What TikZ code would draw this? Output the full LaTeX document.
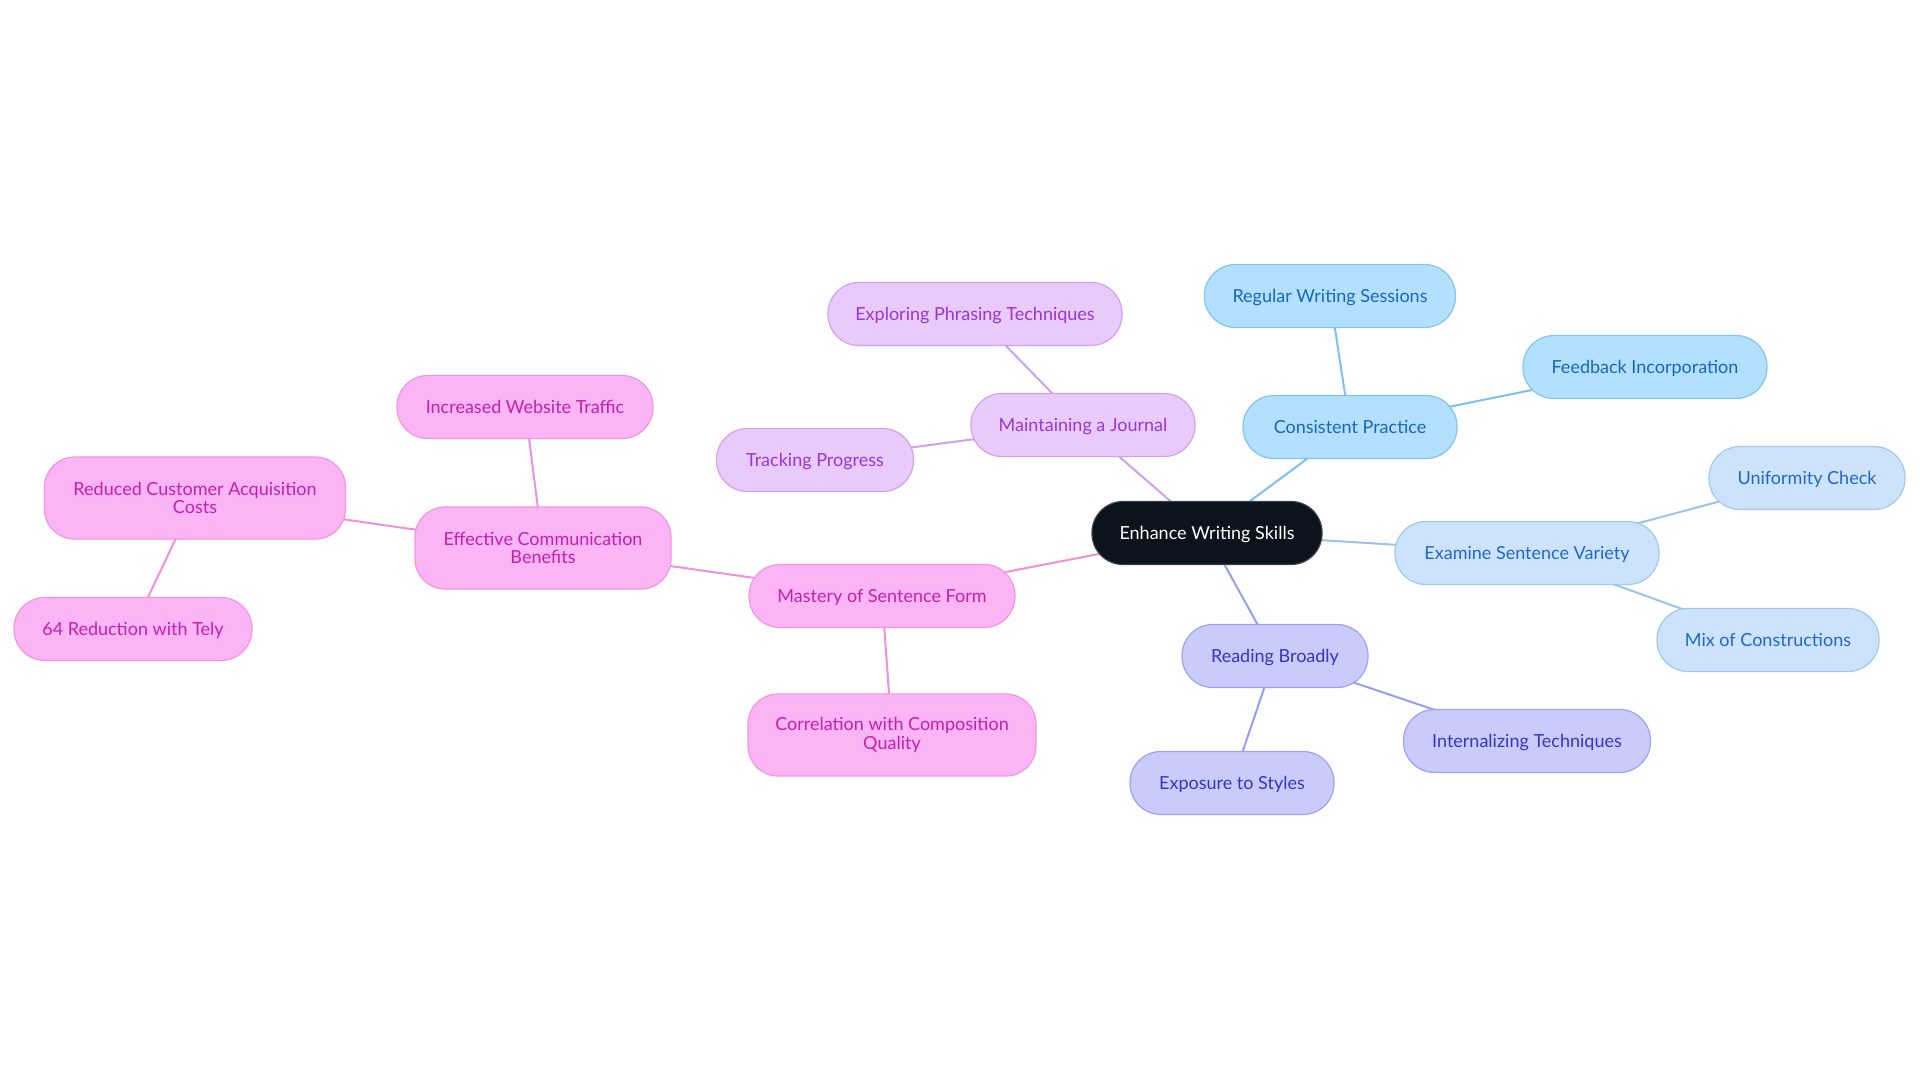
\documentclass[tikz,border=0pt]{standalone}
\usepackage{fontspec}
\setmainfont{Lato}
\usetikzlibrary{backgrounds}
\definecolor{rootfill}{HTML}{0D131C}
\definecolor{rootdraw}{HTML}{3A4049}
\definecolor{bAfill}{HTML}{B3E0FF}
\definecolor{bAdraw}{HTML}{80C4F0}
\definecolor{bAtext}{HTML}{1567C2}
\definecolor{bAedge}{HTML}{7DC0F0}
\definecolor{bBfill}{HTML}{CCE3FB}
\definecolor{bBdraw}{HTML}{A0C8F0}
\definecolor{bBtext}{HTML}{2068D0}
\definecolor{bBedge}{HTML}{9CC3EE}
\definecolor{vfill}{HTML}{C9CBFB}
\definecolor{vdraw}{HTML}{9EA2F2}
\definecolor{vtext}{HTML}{3535C8}
\definecolor{vedge}{HTML}{9A9CF0}
\definecolor{pfill}{HTML}{E8CAFB}
\definecolor{pdraw}{HTML}{D2A0F2}
\definecolor{ptext}{HTML}{9A35D6}
\definecolor{pedge}{HTML}{CFA0EE}
\definecolor{kfill}{HTML}{FCB5F4}
\definecolor{kdraw}{HTML}{F095E4}
\definecolor{ktext}{HTML}{C41FB0}
\definecolor{kedge}{HTML}{F08FE0}
\tikzset{
  box/.style={rectangle, rounded corners=31pt, minimum height=63pt, inner xsep=10pt,
    text height=14pt, text depth=1.4pt,
    line width=1.2pt, align=center, font=\fontsize{18}{18.5}\selectfont},
  tall/.style={rounded corners=30pt, minimum height=82pt, text height=, text depth=},
  rootbox/.style={box, fill=rootfill, draw=rootdraw, text=white},
  bA/.style={box, fill=bAfill, draw=bAdraw, text=bAtext},
  bB/.style={box, fill=bBfill, draw=bBdraw, text=bBtext},
  vi/.style={box, fill=vfill, draw=vdraw, text=vtext},
  pu/.style={box, fill=pfill, draw=pdraw, text=ptext},
  pk/.style={box, fill=kfill, draw=kdraw, text=ktext},
  link/.style={line width=2pt}
}
\begin{document}
\begin{tikzpicture}[x=1pt,y=-1pt]
\useasboundingbox (0,0) rectangle (1920,1083);
\node[rootbox, minimum width=230pt] (root) at (1207,533) {Enhance Writing Skills};
\node[bA, minimum width=214pt] (cp) at (1350,427) {Consistent Practice};
\node[bA, minimum width=251pt] (rws) at (1330,296) {Regular Writing Sessions};
\node[bA, minimum width=244pt] (fi) at (1645,367) {Feedback Incorporation};
\node[bB, minimum width=264pt] (esv) at (1527,553) {Examine Sentence Variety};
\node[bB, minimum width=196pt] (uc) at (1807,478) {Uniformity Check};
\node[bB, minimum width=222pt] (mc) at (1768,640) {Mix of Constructions};
\node[vi, minimum width=186pt] (rb) at (1275,656) {Reading Broadly};
\node[vi, minimum width=247pt] (it) at (1527,741) {Internalizing Techniques};
\node[vi, minimum width=204pt] (es) at (1232,783) {Exposure to Styles};
\node[pu, minimum width=224pt] (mj) at (1083,425) {Maintaining a Journal};
\node[pu, minimum width=294pt] (ept) at (975,314) {Exploring Phrasing Techniques};
\node[pu, minimum width=197pt] (tp) at (815,460) {Tracking Progress};
\node[pk, minimum width=266pt] (msf) at (882,596) {Mastery of Sentence Form};
\node[pk, tall, minimum width=288pt] (ccq) at (892,735) {Correlation with Composition\\Quality};
\node[pk, tall, minimum width=256pt] (ecb) at (543,548) {Effective Communication\\Benefits};
\node[pk, minimum width=256pt] (iwt) at (525,407) {Increased Website Traffic};
\node[pk, tall, minimum width=301pt] (rcac) at (195,498) {Reduced Customer Acquisition\\Costs};
\node[pk, minimum width=238pt] (tely) at (133,629) {64 Reduction with Tely};
\begin{pgfonlayer}{background}
\draw[link, bAedge] (root.center) -- (cp.center);
\draw[link, bAedge] (cp.center) -- (rws.center);
\draw[link, bAedge] (cp.center) -- (fi.center);
\draw[link, bBedge] (root.center) -- (esv.center);
\draw[link, bBedge] (esv.center) -- (uc.center);
\draw[link, bBedge] (esv.center) -- (mc.center);
\draw[link, vedge] (root.center) -- (rb.center);
\draw[link, vedge] (rb.center) -- (it.center);
\draw[link, vedge] (rb.center) -- (es.center);
\draw[link, pedge] (root.center) -- (mj.center);
\draw[link, pedge] (mj.center) -- (ept.center);
\draw[link, pedge] (mj.center) -- (tp.center);
\draw[link, kedge] (root.center) -- (msf.center);
\draw[link, kedge] (msf.center) -- (ccq.center);
\draw[link, kedge] (msf.center) -- (ecb.center);
\draw[link, kedge] (ecb.center) -- (iwt.center);
\draw[link, kedge] (ecb.center) -- (rcac.center);
\draw[link, kedge] (rcac.center) -- (tely.center);
\end{pgfonlayer}
\end{tikzpicture}
\end{document}
